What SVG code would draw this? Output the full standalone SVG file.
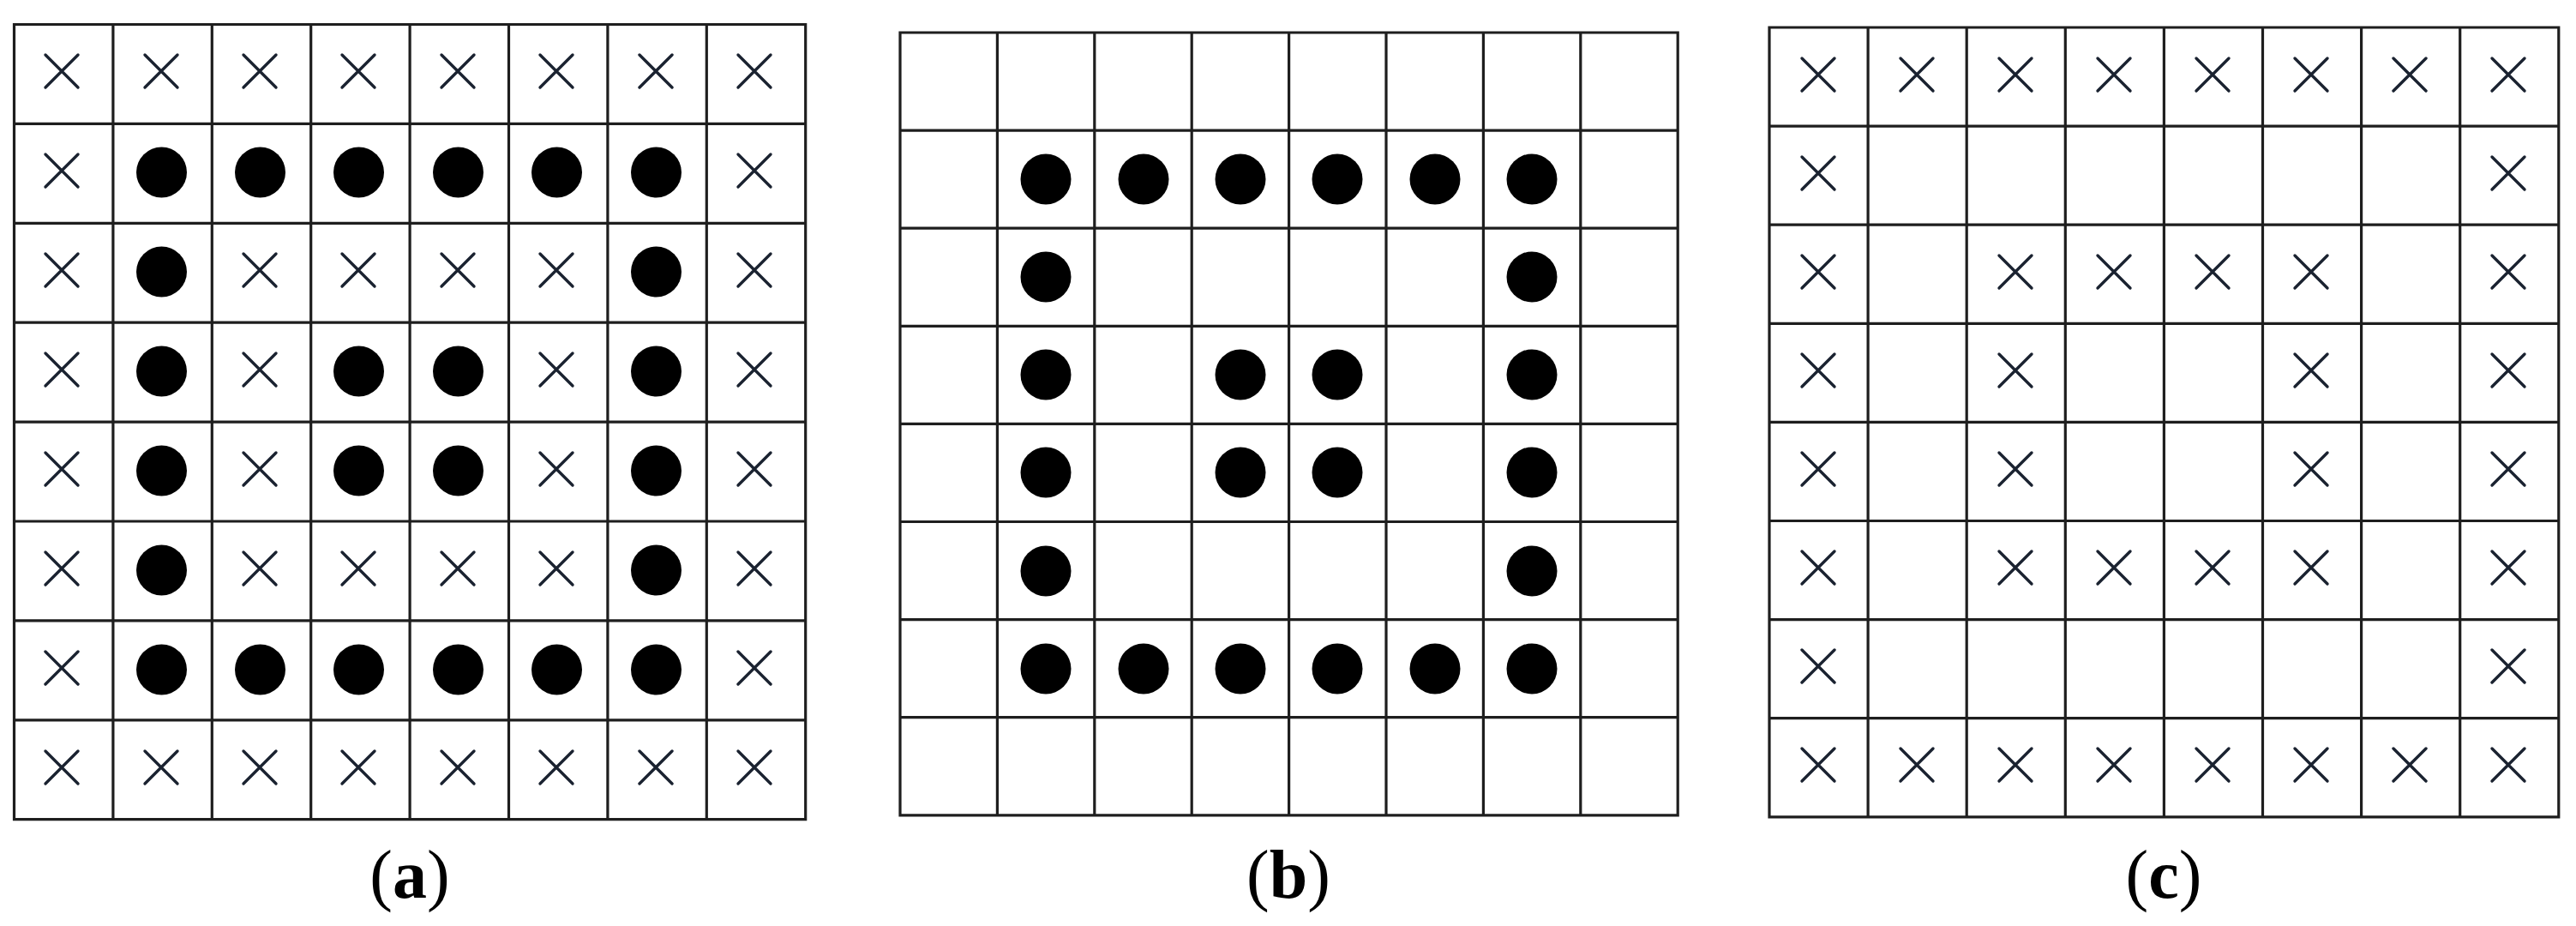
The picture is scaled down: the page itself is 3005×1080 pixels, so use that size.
<svg xmlns="http://www.w3.org/2000/svg" xmlns:xlink="http://www.w3.org/1999/xlink" width="3005" height="1080" viewBox="0 0 3005 1080">
<style>
.grid{fill:none;stroke:#1e1e1e;stroke-width:3.2}
.xm{fill:none;stroke:#1a2230;stroke-width:3.4;stroke-linecap:round}
.dot{fill:#000}
.lbl{font-family:"Liberation Serif","Times New Roman",serif;font-size:80px;fill:#000;text-anchor:middle}
.b{font-weight:bold}
</style>
<defs>
<path id="xm" class="xm" d="M-19,-19L19,19M19,-19L-19,19"/>
<circle id="dt" class="dot" r="29.5"/>
</defs>
<rect width="3005" height="1080" fill="#fff"/>

<g id="panel-a">
<path class="grid" d="M16.5,28.5H939.7V955.7H16.5Z M131.9,28.5V955.7 M247.3,28.5V955.7 M362.7,28.5V955.7 M478.1,28.5V955.7 M593.5,28.5V955.7 M708.9,28.5V955.7 M824.3,28.5V955.7 M16.5,144.4H939.7 M16.5,260.3H939.7 M16.5,376.2H939.7 M16.5,492.1H939.7 M16.5,608H939.7 M16.5,723.9H939.7 M16.5,839.8H939.7"/>
<g id="a-x" transform="translate(-2,-3)">
<use href="#xm" x="74" y="86"/><use href="#xm" x="190" y="86"/><use href="#xm" x="305" y="86"/><use href="#xm" x="420" y="86"/><use href="#xm" x="536" y="86"/><use href="#xm" x="651" y="86"/><use href="#xm" x="767" y="86"/><use href="#xm" x="882" y="86"/>
<use href="#xm" x="74" y="898"/><use href="#xm" x="190" y="898"/><use href="#xm" x="305" y="898"/><use href="#xm" x="420" y="898"/><use href="#xm" x="536" y="898"/><use href="#xm" x="651" y="898"/><use href="#xm" x="767" y="898"/><use href="#xm" x="882" y="898"/>
<use href="#xm" x="74" y="202"/><use href="#xm" x="74" y="318"/><use href="#xm" x="74" y="434"/><use href="#xm" x="74" y="550"/><use href="#xm" x="74" y="666"/><use href="#xm" x="74" y="782"/>
<use href="#xm" x="882" y="202"/><use href="#xm" x="882" y="318"/><use href="#xm" x="882" y="434"/><use href="#xm" x="882" y="550"/><use href="#xm" x="882" y="666"/><use href="#xm" x="882" y="782"/>
<use href="#xm" x="305" y="318"/><use href="#xm" x="420" y="318"/><use href="#xm" x="536" y="318"/><use href="#xm" x="651" y="318"/>
<use href="#xm" x="305" y="666"/><use href="#xm" x="420" y="666"/><use href="#xm" x="536" y="666"/><use href="#xm" x="651" y="666"/>
<use href="#xm" x="305" y="434"/><use href="#xm" x="305" y="550"/><use href="#xm" x="651" y="434"/><use href="#xm" x="651" y="550"/>
</g>
<g id="a-dots" transform="translate(-1.5,-1)">
<use href="#dt" x="190" y="202"/><use href="#dt" x="305" y="202"/><use href="#dt" x="420" y="202"/><use href="#dt" x="536" y="202"/><use href="#dt" x="651" y="202"/><use href="#dt" x="767" y="202"/>
<use href="#dt" x="190" y="782"/><use href="#dt" x="305" y="782"/><use href="#dt" x="420" y="782"/><use href="#dt" x="536" y="782"/><use href="#dt" x="651" y="782"/><use href="#dt" x="767" y="782"/>
<use href="#dt" x="190" y="318"/><use href="#dt" x="190" y="434"/><use href="#dt" x="190" y="550"/><use href="#dt" x="190" y="666"/>
<use href="#dt" x="767" y="318"/><use href="#dt" x="767" y="434"/><use href="#dt" x="767" y="550"/><use href="#dt" x="767" y="666"/>
<use href="#dt" x="420" y="434"/><use href="#dt" x="536" y="434"/><use href="#dt" x="420" y="550"/><use href="#dt" x="536" y="550"/>
</g>
<text class="lbl" x="478" y="1047">(<tspan class="b">a</tspan>)</text>
</g>

<g id="panel-b">
<path class="grid" d="M1050,38H1957.2V950.8H1050Z M1163.4,38V950.8 M1276.8,38V950.8 M1390.2,38V950.8 M1503.6,38V950.8 M1617,38V950.8 M1730.4,38V950.8 M1843.8,38V950.8 M1050,152.1H1957.2 M1050,266.2H1957.2 M1050,380.3H1957.2 M1050,494.4H1957.2 M1050,608.5H1957.2 M1050,722.6H1957.2 M1050,836.7H1957.2"/>
<g id="b-dots">
<use href="#dt" x="1220" y="209"/><use href="#dt" x="1334" y="209"/><use href="#dt" x="1447" y="209"/><use href="#dt" x="1560" y="209"/><use href="#dt" x="1674" y="209"/><use href="#dt" x="1787" y="209"/>
<use href="#dt" x="1220" y="780"/><use href="#dt" x="1334" y="780"/><use href="#dt" x="1447" y="780"/><use href="#dt" x="1560" y="780"/><use href="#dt" x="1674" y="780"/><use href="#dt" x="1787" y="780"/>
<use href="#dt" x="1220" y="323"/><use href="#dt" x="1220" y="437"/><use href="#dt" x="1220" y="551"/><use href="#dt" x="1220" y="666"/>
<use href="#dt" x="1787" y="323"/><use href="#dt" x="1787" y="437"/><use href="#dt" x="1787" y="551"/><use href="#dt" x="1787" y="666"/>
<use href="#dt" x="1447" y="437"/><use href="#dt" x="1560" y="437"/><use href="#dt" x="1447" y="551"/><use href="#dt" x="1560" y="551"/>
</g>
<text class="lbl" x="1503" y="1047">(<tspan class="b">b</tspan>)</text>
</g>

<g id="panel-c">
<path class="grid" d="M2064,32H2984.8V952.8H2064Z M2179.1,32V952.8 M2294.2,32V952.8 M2409.3,32V952.8 M2524.4,32V952.8 M2639.5,32V952.8 M2754.6,32V952.8 M2869.7,32V952.8 M2064,147.1H2984.8 M2064,262.2H2984.8 M2064,377.3H2984.8 M2064,492.4H2984.8 M2064,607.5H2984.8 M2064,722.6H2984.8 M2064,837.7H2984.8"/>
<g id="c-x" transform="translate(-1,-3)">
<use href="#xm" x="2122" y="90"/><use href="#xm" x="2237" y="90"/><use href="#xm" x="2352" y="90"/><use href="#xm" x="2467" y="90"/><use href="#xm" x="2582" y="90"/><use href="#xm" x="2697" y="90"/><use href="#xm" x="2812" y="90"/><use href="#xm" x="2927" y="90"/>
<use href="#xm" x="2122" y="895"/><use href="#xm" x="2237" y="895"/><use href="#xm" x="2352" y="895"/><use href="#xm" x="2467" y="895"/><use href="#xm" x="2582" y="895"/><use href="#xm" x="2697" y="895"/><use href="#xm" x="2812" y="895"/><use href="#xm" x="2927" y="895"/>
<use href="#xm" x="2122" y="205"/><use href="#xm" x="2122" y="320"/><use href="#xm" x="2122" y="435"/><use href="#xm" x="2122" y="550"/><use href="#xm" x="2122" y="665"/><use href="#xm" x="2122" y="780"/>
<use href="#xm" x="2927" y="205"/><use href="#xm" x="2927" y="320"/><use href="#xm" x="2927" y="435"/><use href="#xm" x="2927" y="550"/><use href="#xm" x="2927" y="665"/><use href="#xm" x="2927" y="780"/>
<use href="#xm" x="2352" y="320"/><use href="#xm" x="2467" y="320"/><use href="#xm" x="2582" y="320"/><use href="#xm" x="2697" y="320"/>
<use href="#xm" x="2352" y="665"/><use href="#xm" x="2467" y="665"/><use href="#xm" x="2582" y="665"/><use href="#xm" x="2697" y="665"/>
<use href="#xm" x="2352" y="435"/><use href="#xm" x="2352" y="550"/><use href="#xm" x="2697" y="435"/><use href="#xm" x="2697" y="550"/>
</g>
<text class="lbl" x="2524" y="1047">(<tspan class="b">c</tspan>)</text>
</g>
</svg>
